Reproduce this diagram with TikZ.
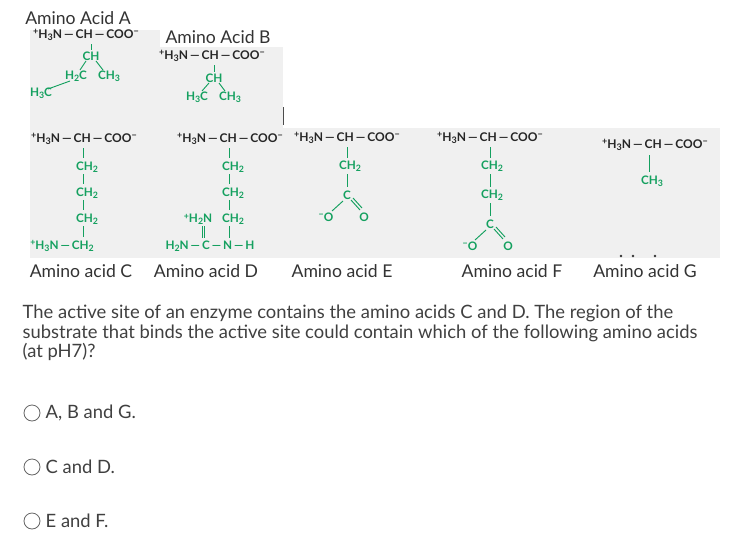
\documentclass[tikz,border=0pt]{standalone}
\usepackage{fontspec}
\setmainfont{Lato}
\definecolor{grn}{RGB}{20,160,95}
\newcommand{\sbs}[1]{\raisebox{-0.25ex}{\scalebox{0.75}{#1}}}
\newcommand{\sps}[1]{\raisebox{0.6ex}{\scalebox{0.75}{#1}}}
\newcommand{\bnd}{\,—\,}
\begin{document}
\begin{tikzpicture}[x=0.75pt,y=-0.75pt,
  lab/.style={font=\fontsize{13.2}{15}\selectfont,text=black!80},
  fm/.style={font=\bfseries\fontsize{9}{10}\selectfont,text=black!85,inner sep=0.5pt},
  sc/.style={font=\bfseries\fontsize{8.8}{10}\selectfont,text=grn,inner sep=0.5pt},
  bd/.style={grn,line width=0.7pt},
  q/.style={font=\fontsize{13.8}{16}\selectfont,text=black!75,anchor=west},
  opt/.style={circle,draw=black!60,line width=0.6pt,minimum size=12pt,inner sep=0pt}]
\useasboundingbox (0,0) rectangle (742,546);
\fill[white] (0,0) rectangle (742,546);
\fill[black!6] (30,30) rectangle (160,130);
\fill[black!6] (160,47) rectangle (283,130);
\fill[black!6] (30,128) rectangle (720,258);
\draw[black!70,line width=0.5pt] (283,107) -- (283,125);
% A
\node[lab] (la) at (78,18) {Amino Acid A};
\node[fm] (fa) at (86,35) {\sps{+}H\sbs{3}N\bnd CH\bnd COO\sps{−}};
\node[sc] (a1) at (91,56) {CH};
\node[sc] (a2) at (76,76) {H\sbs{2}C};
\node[sc] (a3) at (109,76) {CH\sbs{3}};
\node[sc] (a4) at (41,93) {H\sbs{3}C};
\draw[bd] (91,44)--(91,50); \draw[bd] (86,61)--(80,70); \draw[bd] (96,61)--(103,70);
\draw[bd] (70,81)--(48,89);
% B
\node[lab] (lb) at (218,37) {Amino Acid B};
\node[fm] (fb) at (212,56) {\sps{+}H\sbs{3}N\bnd CH\bnd COO\sps{−}};
\node[sc] (b1) at (214,78) {CH};
\node[sc] (b2) at (197,97) {H\sbs{3}C};
\node[sc] (b3) at (230,97) {CH\sbs{3}};
\draw[bd] (214,65)--(214,72); \draw[bd] (209,83)--(202,91); \draw[bd] (219,83)--(225,91);
% C
\node[fm] (fc) at (84,139) {\sps{+}H\sbs{3}N\bnd CH\bnd COO\sps{−}};
\node[sc] (c1) at (87,167) {CH\sbs{2}};
\node[sc] (c2) at (87,193) {CH\sbs{2}};
\node[sc] (c3) at (87,219) {CH\sbs{2}};
\node[sc] (c4) at (62,246) {\sps{+}H\sbs{3}N\bnd CH\sbs{2}};
\draw[bd] (83,148)--(83,158); \draw[bd] (83,174)--(83,184); \draw[bd] (83,200)--(83,210); \draw[bd] (83,226)--(83,237);
% D
\node[fm] (fd) at (230,139) {\sps{+}H\sbs{3}N\bnd CH\bnd COO\sps{−}};
\node[sc] (d1) at (233,167) {CH\sbs{2}};
\node[sc] (d2) at (233,193) {CH\sbs{2}};
\node[sc] (d3) at (233,219) {CH\sbs{2}};
\node[sc] (d4) at (198,219) {\sps{+}H\sbs{2}N};
\node[sc] (d5) at (210,246) {H\sbs{2}N\bnd C\bnd N\bnd H};
\draw[bd] (229,148)--(229,158); \draw[bd] (229,174)--(229,184); \draw[bd] (229,200)--(229,210); \draw[bd] (229,226)--(229,238);
\draw[bd] (202,226)--(202,238); \draw[bd] (204.5,226)--(204.5,238);
% E
\node[fm] (fe) at (347,138) {\sps{+}H\sbs{3}N\bnd CH\bnd COO\sps{−}};
\node[sc] (e1) at (350,166) {CH\sbs{2}};
\node[sc] (e2) at (347,195) {C};
\node[sc] (e3) at (326,217) {\sps{−}O};
\node[sc] (e4) at (364,217) {O};
\draw[bd] (347,147)--(347,158); \draw[bd] (347,174)--(347,187);
\draw[bd] (343,201)--(332,211); \draw[bd] (351,200)--(360,210); \draw[bd] (353,198)--(362,208);
% F
\node[fm] (ff) at (490,138) {\sps{+}H\sbs{3}N\bnd CH\bnd COO\sps{−}};
\node[sc] (f1) at (492,166) {CH\sbs{2}};
\node[sc] (f2) at (492,195) {CH\sbs{2}};
\node[sc] (f3) at (490,224) {C};
\node[sc] (f4) at (470,246) {\sps{−}O};
\node[sc] (f5) at (508,246) {O};
\draw[bd] (490,147)--(490,158); \draw[bd] (490,174)--(490,187); \draw[bd] (490,203)--(490,216);
\draw[bd] (486,230)--(475,240); \draw[bd] (494,229)--(503,239); \draw[bd] (496,227)--(505,237);
% G
\node[fm] (fg) at (655,145) {\sps{+}H\sbs{3}N\bnd CH\bnd COO\sps{−}};
\node[sc] (g1) at (652,181) {CH\sbs{3}};
\draw[bd] (649,155)--(649,172);
\fill[black!80] (621,256) circle (1pt) (633,256) circle (1pt) (655,256) circle (1pt);
% labels
\node[lab] (lc) at (81,271) {Amino acid C};
\node[lab] (ld) at (206,271) {Amino acid D};
\node[lab] (le) at (342,271) {Amino acid E};
\node[lab] (lf) at (512,271) {Amino acid F};
\node[lab] (lg) at (645,271) {Amino acid G};
% question
\node[q] (q1) at (18,313) {The active site of an enzyme contains the amino acids C and D. The region of the};
\node[q] (q2) at (18,333) {substrate that binds the active site could contain which of the following amino acids};
\node[q] (q3) at (18,352) {(at pH7)?};
\node[opt] (o1) at (32,413) {}; \node[q] (t1) at (41,413) {A, B and G.};
\node[opt] (o2) at (32,467) {}; \node[q] (t2) at (41,467) {C and D.};
\node[opt] (o3) at (32,521) {}; \node[q] (t3) at (41,521) {E and F.};
\end{tikzpicture}
\end{document}
